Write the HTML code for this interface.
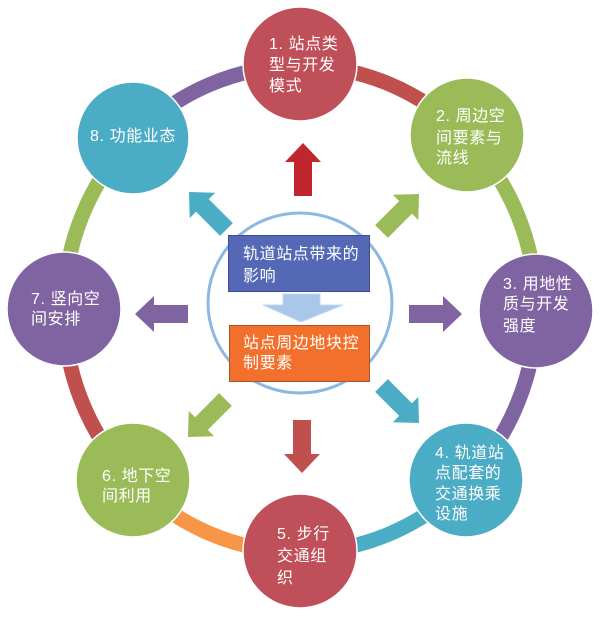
<!DOCTYPE html>
<html>
<head>
<meta charset="utf-8">
<style>
html,body{margin:0;padding:0;background:#fff;}
svg{display:block;}
text{font-family:"Liberation Sans","Noto Sans CJK SC",sans-serif;font-size:16px;fill:#fff;letter-spacing:0.6px;}
</style>
</head>
<body>
<svg width="600" height="618" viewBox="0 0 600 618" xmlns="http://www.w3.org/2000/svg">
  <!-- ring arcs -->
  <g fill="none" stroke-width="15">
    <path d="M300 66 A236 243 0 0 1 466.9 137.2" stroke="#c0504d"/>
    <path d="M466.9 137.2 A236 243 0 0 1 536 309" stroke="#9bbb59"/>
    <path d="M536 309 A236 243 0 0 1 466.9 480.8" stroke="#8064a2"/>
    <path d="M466.9 480.8 A236 243 0 0 1 300 552" stroke="#4bacc6"/>
    <path d="M300 552 A236 243 0 0 1 133.1 480.8" stroke="#f79646"/>
    <path d="M133.1 480.8 A236 243 0 0 1 64 309" stroke="#c0504d"/>
    <path d="M64 309 A236 243 0 0 1 133.1 137.2" stroke="#9bbb59"/>
    <path d="M133.1 137.2 A236 243 0 0 1 300 66" stroke="#8064a2"/>
  </g>
  <!-- outer circles -->
  <g stroke="#fff" stroke-width="1.5">
    <circle cx="300" cy="64" r="57" fill="#bf4f58"/>
    <circle cx="467" cy="135" r="57" fill="#9bbb59"/>
    <circle cx="536" cy="311" r="57" fill="#8064a2"/>
    <circle cx="466" cy="480" r="57" fill="#4bacc6"/>
    <circle cx="300" cy="551" r="57" fill="#bf4f58"/>
    <circle cx="133" cy="480" r="57" fill="#9bbb59"/>
    <circle cx="64" cy="309" r="57" fill="#8064a2"/>
    <circle cx="133" cy="138" r="56" fill="#4bacc6"/>
  </g>
  <!-- center circle -->
  <ellipse cx="300" cy="303" rx="92" ry="90" fill="none" stroke="#8db8e2" stroke-width="3"/>
  <!-- arrows -->
  <defs>
    <polygon id="arr" points="0,0 18,19 9,19 9,53 -9,53 -9,19 -18,19"/>
  </defs>
  <use href="#arr" transform="translate(303,143)" fill="#c1262e"/>
  <use href="#arr" transform="translate(419,194) rotate(45)" fill="#9bbb59"/>
  <use href="#arr" transform="translate(462,314) rotate(90)" fill="#8064a2"/>
  <use href="#arr" transform="translate(419,423) rotate(135)" fill="#4bacc6"/>
  <use href="#arr" transform="translate(302,473) rotate(180)" fill="#c0504d"/>
  <use href="#arr" transform="translate(188,437) rotate(225)" fill="#9bbb59"/>
  <use href="#arr" transform="translate(135,314) rotate(270)" fill="#8064a2"/>
  <use href="#arr" transform="translate(189,192) rotate(315)" fill="#4bacc6"/>
  <!-- center boxes -->
  <rect x="228.5" y="235.5" width="141" height="56" fill="#5468b6" stroke="#3d4d92" stroke-width="1"/>
  <polygon points="283,294 320,294 320,305 343,305 301,322 263,305 283,305" fill="#a9c8e8" stroke="#c4d9ef" stroke-width="1"/>
  <rect x="229.5" y="325.5" width="140" height="56" fill="#f36f2c" stroke="#a9552a" stroke-width="1"/>
  <!-- center texts -->
  <text x="243" y="259">轨道站点带来的</text>
  <text x="243" y="281">影响</text>
  <text x="243" y="348">站点周边地块控</text>
  <text x="243" y="368">制要素</text>
  <!-- circle texts -->
  <text x="269" y="49">1. 站点类</text>
  <text x="269" y="70">型与开发</text>
  <text x="269" y="91">模式</text>

  <text x="436" y="121">2. 周边空</text>
  <text x="436" y="143">间要素与</text>
  <text x="436" y="163">流线</text>

  <text x="503" y="289">3. 用地性</text>
  <text x="503" y="309">质与开发</text>
  <text x="503" y="331">强度</text>

  <text x="435" y="458">4. 轨道站</text>
  <text x="435" y="478">点配套的</text>
  <text x="435" y="499">交通换乘</text>
  <text x="435" y="519">设施</text>

  <text x="277" y="539">5. 步行</text>
  <text x="277" y="561">交通组</text>
  <text x="277" y="583">织</text>

  <text x="102" y="481">6. 地下空</text>
  <text x="102" y="501">间利用</text>

  <text x="31" y="304">7. 竖向空</text>
  <text x="31" y="324">间安排</text>

  <text x="90" y="141">8. 功能业态</text>
</svg>
</body>
</html>
